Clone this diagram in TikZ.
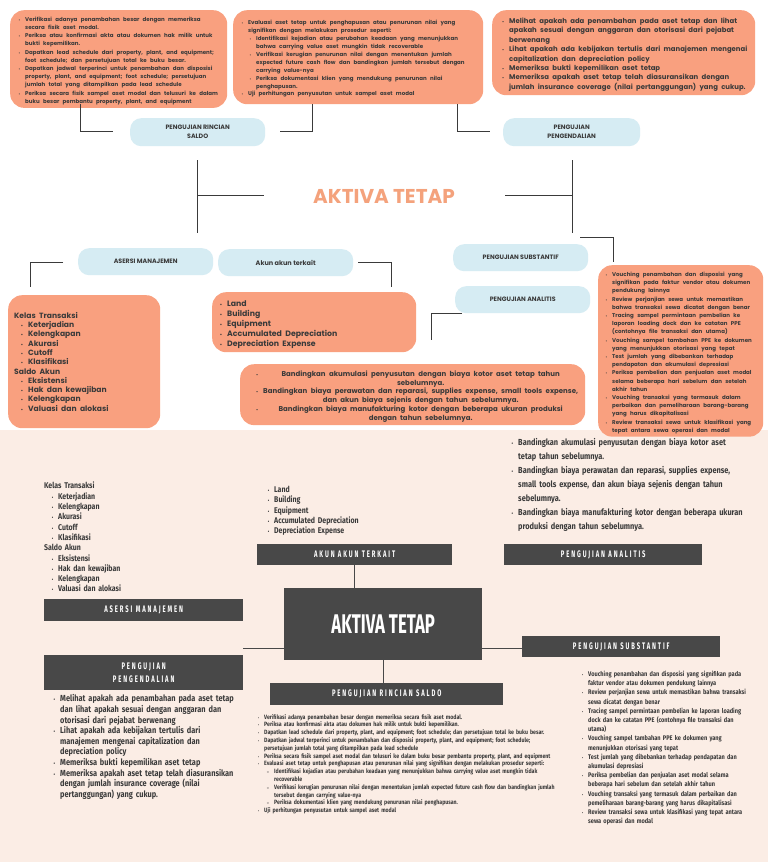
\documentclass[tikz,border=0pt]{standalone}
\usepackage{fontspec}
\usepackage{enumitem}
\setmainfont{Poppins}
\newfontfamily\cond[FakeStretch=0.84]{Fira Sans}
\newfontfamily\hdr[FakeStretch=0.62,LetterSpace=20]{Fira Sans}
\newfontfamily\bigtitle[FakeStretch=0.62]{Fira Sans}
\definecolor{salm}{HTML}{F9A07F}
\definecolor{pill}{HTML}{D6ECF3}
\definecolor{dark}{HTML}{484848}
\definecolor{tit}{HTML}{F4A27C}
\definecolor{beige}{HTML}{FBEDE5}
\definecolor{ink}{HTML}{3A3A3A}
\newcommand\blist[2][8pt]{\begin{itemize}[nosep,leftmargin=#1,label={\scalebox{0.6}{\textbullet}}]#2\end{itemize}}
\newcommand\clist[1]{\begin{itemize}[nosep,leftmargin=10pt,label={\scalebox{0.7}{$\circ$}}]#1\end{itemize}}
\newcommand\citem[1]{\item\begin{minipage}[t]{\linewidth}\centering #1\end{minipage}}
\tikzset{
 obox/.style={fill=salm,rounded corners=14pt,anchor=north west,inner xsep=7pt,inner ysep=3pt,text=ink,font=\bfseries},
 pillbox/.style={fill=pill,rounded corners=11pt,anchor=north west,text=ink,font=\bfseries\fontsize{6.3}{9}\selectfont,align=center,inner sep=0pt},
 bar/.style={fill=dark,anchor=north west,text=white,font=\hdr\bfseries\fontsize{9.5}{13}\selectfont,align=center,inner sep=0pt},
 txt/.style={anchor=north west,text=ink,inner sep=0pt},
 ln/.style={draw=ink,line width=0.8pt},
 lnb/.style={draw=dark,line width=0.8pt}
}
\begin{document}
\begin{tikzpicture}[x=1pt,y=-1pt]
\useasboundingbox (0,0) rectangle (768,862);
\fill[white] (0,0) rectangle (768,430);
\fill[beige] (0,430) rectangle (768,862);

% ---------- TOP HALF ----------
\node[obox,text width=203pt,minimum width=217pt,minimum height=94pt] (tl) at (10,10) {\fontsize{5.5}{8.2}\selectfont
\blist{\item Verifikasi adanya penambahan besar dengan memeriksa secara fisik aset modal.
\item Periksa atau konfirmasi akta atau dokumen hak milik untuk bukti kepemilikan.
\item Dapatkan lead schedule dari property, plant, and equipment; foot schedule; dan persetujuan total ke buku besar.
\item Dapatkan jadwal terperinci untuk penambahan dan disposisi property, plant, and equipment; foot schedule; persetujuan jumlah total yang ditampilkan pada lead schedule
\item Periksa secara fisik sampel aset modal dan telusuri ke dalam buku besar pembantu property, plant, and equipment}};

\node[obox,text width=236pt,minimum width=250pt,minimum height=94pt] (tm) at (233,10) {\fontsize{5.5}{7.9}\selectfont
\blist{\item Evaluasi aset tetap untuk penghapusan atau penurunan nilai yang signifikan dengan melakukan prosedur seperti:
\blist{\item Identifikasi kejadian atau perubahan keadaan yang menunjukkan bahwa carrying value aset mungkin tidak recoverable
\item Verifikasi kerugian penurunan nilai dengan menentukan jumlah expected future cash flow dan bandingkan jumlah tersebut dengan carrying value-nya
\item Periksa dokumentasi klien yang mendukung penurunan nilai penghapusan.}
\item Uji perhitungan penyusutan untuk sampel aset modal}};

\node[obox,text width=249pt,minimum width=263pt,minimum height=85pt] (tr) at (492,10) {\fontsize{6.9}{9.4}\selectfont
\blist[10pt]{\item Melihat apakah ada penambahan pada aset tetap dan lihat apakah sesuai dengan anggaran dan otorisasi dari pejabat berwenang
\item Lihat apakah ada kebijakan tertulis dari manajemen mengenai capitalization dan depreciation policy
\item Memeriksa bukti kepemilikan aset tetap
\item Memeriksa apakah aset tetap telah diasuransikan dengan jumlah insurance coverage (nilai pertanggungan) yang cukup.}};

\node[pillbox,minimum width=135pt,minimum height=28pt] (prs) at (130,118) {PENGUJIAN RINCIAN\\SALDO};
\node[pillbox,minimum width=137pt,minimum height=28pt] (ppg) at (503,118) {PENGUJIAN\\PENGENDALIAN};

\node[text=tit,font=\bfseries\fontsize{20}{24}\selectfont] (title) at (384,196) {AKTIVA TETAP};

\coordinate (a1) at (80,104); \coordinate (a2) at (80,131);
\draw[ln] (a1) -- (a2) -- (113,131);
\draw[ln] (312,104) -- (312,131) -- (280,131);
\draw[ln] (457,104) -- (457,131) -- (490,131);
\draw[ln] (197,160) -- (197,233);
\draw[ln] (197,195) -- (264,195);
\draw[ln] (572,160) -- (572,233);
\draw[ln] (505,195) -- (572,195);

\node[pillbox,minimum width=135pt,minimum height=27pt] (pam) at (78,248) {ASERSI MANAJEMEN};
\node[pillbox,minimum width=135pt,minimum height=27pt,font=\bfseries\fontsize{6.5}{8}\selectfont] (pak) at (218,249) {Akun akun terkait};
\node[pillbox,minimum width=135pt,minimum height=27pt] (pps) at (453,244) {PENGUJIAN SUBSTANTIF};
\node[pillbox,minimum width=135pt,minimum height=27pt] (ppa) at (455,286) {PENGUJIAN ANALITIS};

\draw[ln] (63,262) -- (30,262) -- (30,287);
\draw[ln] (358,262) -- (391,262) -- (391,287);
\draw[ln] (580,237) -- (613,237) -- (613,262);
\draw[ln] (462,313) -- (431,313) -- (431,340);

\node[obox,text width=140pt,minimum width=152pt,minimum height=133pt,inner xsep=6pt] (kb) at (8,295) {\fontsize{7.6}{9.3}\selectfont
Kelas Transaksi
\blist[14pt]{\item Keterjadian \item Kelengkapan \item Akurasi \item Cutoff \item Klasifikasi}
Saldo Akun
\blist[14pt]{\item Eksistensi \item Hak dan kewajiban \item Kelengkapan \item Valuasi dan alokasi}};

\node[obox,text width=190pt,minimum width=204pt,minimum height=60pt] (lb) at (212,292) {\fontsize{7.8}{10}\selectfont
\blist{\item Land \item Building \item Equipment \item Accumulated Depreciation \item Depreciation Expense}};

\node[obox,text width=331pt,minimum width=345pt,minimum height=60pt] (bb) at (240,364) {\fontsize{7}{9}\selectfont
\begin{itemize}[nosep,leftmargin=16pt,label={\scalebox{0.6}{\textbullet}}]
\citem{Bandingkan akumulasi penyusutan dengan biaya kotor aset tetap tahun sebelumnya.}
\citem{Bandingkan biaya perawatan dan reparasi, supplies expense, small tools expense, dan akun biaya sejenis dengan tahun sebelumnya.}
\citem{Bandingkan biaya manufakturing kotor dengan beberapa ukuran produksi dengan tahun sebelumnya.}
\end{itemize}};

\node[obox,text width=153pt,minimum width=165pt,minimum height=159pt,inner xsep=6pt] (rb) at (598,265) {\fontsize{5.5}{8.2}\selectfont
\blist{\item Vouching penambahan dan disposisi yang signifikan pada faktur vendor atau dokumen pendukung lainnya
\item Review perjanjian sewa untuk memastikan bahwa transaksi sewa dicatat dengan benar
\item Tracing sampel permintaan pembelian ke laporan loading dock dan ke catatan PPE (contohnya file transaksi dan utama)
\item Vouching sampel tambahan PPE ke dokumen yang menunjukkan otorisasi yang tepat
\item Test jumlah yang dibebankan terhadap pendapatan dan akumulasi depresiasi
\item Periksa pembelian dan penjualan aset modal selama beberapa hari sebelum dan setelah akhir tahun
\item Vouching transaksi yang termasuk dalam perbaikan dan pemeliharaan barang-barang yang harus dikapitalisasi
\item Review transaksi sewa untuk klasifikasi yang tepat antara sewa operasi dan modal}};

% ---------- BOTTOM HALF ----------
\node[txt,text width=200pt,font=\cond\bfseries\fontsize{8.3}{10.3}\selectfont] (kl) at (44,482) {Kelas Transaksi
\blist[14pt]{\item Keterjadian \item Kelengkapan \item Akurasi \item Cutoff \item Klasifikasi}
Saldo Akun
\blist[14pt]{\item Eksistensi \item Hak dan kewajiban \item Kelengkapan \item Valuasi dan alokasi}};
\node[bar,minimum width=199pt,minimum height=22pt] (bam) at (44,599) {ASERSI MANAJEMEN};

\node[txt,text width=190pt,font=\cond\bfseries\fontsize{8.3}{10.3}\selectfont] (ll) at (264,482) {\blist[10pt]{\item Land \item Building \item Equipment \item Accumulated Depreciation \item Depreciation Expense}};
\node[bar,minimum width=195pt,minimum height=21pt] (bak) at (257,544) {AKUN AKUN TERKAIT};

\node[txt,text width=235pt,font=\cond\bfseries\fontsize{8.8}{14}\selectfont] (bl) at (508,431) {\blist[10pt]{\item Bandingkan akumulasi penyusutan dengan biaya kotor aset tetap tahun sebelumnya.
\item Bandingkan biaya perawatan dan reparasi, supplies expense, small tools expense, dan akun biaya sejenis dengan tahun sebelumnya.
\item Bandingkan biaya manufakturing kotor dengan beberapa ukuran produksi dengan tahun sebelumnya.}};
\node[bar,minimum width=198pt,minimum height=21pt] (ban) at (504,544) {PENGUJIAN ANALITIS};

\node[fill=dark,anchor=north west,minimum width=198pt,minimum height=72pt,text=white,font=\bigtitle\bfseries\fontsize{27}{30}\selectfont,inner sep=0pt] (bt) at (284,588) {AKTIVA TETAP};

\node[bar,minimum width=198pt,minimum height=21pt] (bsub) at (522,636) {PENGUJIAN SUBSTANTIF};
\node[bar,minimum width=199pt,minimum height=35pt] (bpg) at (44,655) {PENGUJIAN\\PENGENDALIAN};
\node[bar,minimum width=233pt,minimum height=22pt] (brs) at (270,683) {PENGUJIAN RINCIAN SALDO};

\draw[lnb] (bak.south) -- (bak.south |- bt.north);
\draw[lnb] (243,648) -- (bt.west |- 0,648);
\draw[lnb] (bt.east |- 0,648) -- (bsub.west |- 0,648);
\draw[lnb] (bt.south) -- (bt.south |- brs.north);

\node[txt,text width=195pt,font=\cond\bfseries\fontsize{8.8}{10.6}\selectfont] (pl) at (46,691) {\blist[14pt]{\item Melihat apakah ada penambahan pada aset tetap dan lihat apakah sesuai dengan anggaran dan otorisasi dari pejabat berwenang
\item Lihat apakah ada kebijakan tertulis dari manajemen mengenai capitalization dan depreciation policy
\item Memeriksa bukti kepemilikan aset tetap
\item Memeriksa apakah aset tetap telah diasuransikan dengan jumlah insurance coverage (nilai pertanggungan) yang cukup.}};

\node[txt,text width=300pt,font=\cond\bfseries\fontsize{6.2}{7.8}\selectfont] (rl) at (256,711) {\blist{\item Verifikasi adanya penambahan besar dengan memeriksa secara fisik aset modal.
\item Periksa atau konfirmasi akta atau dokumen hak milik untuk bukti kepemilikan.
\item Dapatkan lead schedule dari property, plant, and equipment; foot schedule; dan persetujuan total ke buku besar.
\item Dapatkan jadwal terperinci untuk penambahan dan disposisi property, plant, and equipment; foot schedule; persetujuan jumlah total yang ditampilkan pada lead schedule
\item Periksa secara fisik sampel aset modal dan telusuri ke dalam buku besar pembantu property, plant, and equipment
\item Evaluasi aset tetap untuk penghapusan atau penurunan nilai yang signifikan dengan melakukan prosedur seperti:
\clist{\item Identifikasi kejadian atau perubahan keadaan yang menunjukkan bahwa carrying value aset mungkin tidak recoverable
\item Verifikasi kerugian penurunan nilai dengan menentukan jumlah expected future cash flow dan bandingkan jumlah tersebut dengan carrying value-nya
\item Periksa dokumentasi klien yang mendukung penurunan nilai penghapusan.}
\item Uji perhitungan penyusutan untuk sampel aset modal}};

\node[txt,text width=175pt,font=\cond\bfseries\fontsize{6.7}{9.2}\selectfont] (sl) at (578,667) {\blist[10pt]{\item Vouching penambahan dan disposisi yang signifikan pada faktur vendor atau dokumen pendukung lainnya
\item Review perjanjian sewa untuk memastikan bahwa transaksi sewa dicatat dengan benar
\item Tracing sampel permintaan pembelian ke laporan loading dock dan ke catatan PPE (contohnya file transaksi dan utama)
\item Vouching sampel tambahan PPE ke dokumen yang menunjukkan otorisasi yang tepat
\item Test jumlah yang dibebankan terhadap pendapatan dan akumulasi depresiasi
\item Periksa pembelian dan penjualan aset modal selama beberapa hari sebelum dan setelah akhir tahun
\item Vouching transaksi yang termasuk dalam perbaikan dan pemeliharaan barang-barang yang harus dikapitalisasi
\item Review transaksi sewa untuk klasifikasi yang tepat antara sewa operasi dan modal}};
\end{tikzpicture}
\end{document}
